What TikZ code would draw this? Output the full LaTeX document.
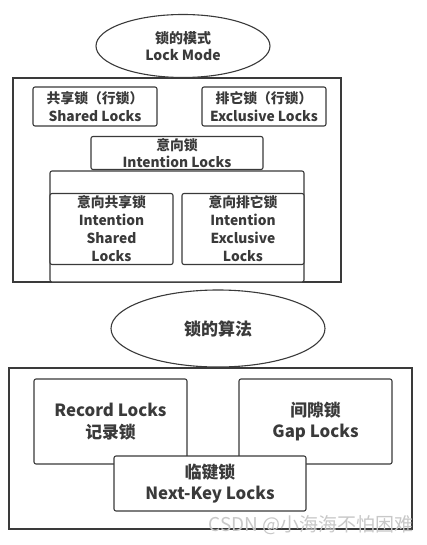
\documentclass[tikz,border=0pt]{standalone}
\usepackage{fontspec}
\setmainfont{Noto Sans CJK SC}
\usetikzlibrary{shapes.geometric}
\definecolor{ink}{HTML}{3A3A3A}
\definecolor{wm}{HTML}{C8C8C8}
\tikzset{
  outer/.style={draw=ink, line width=1.1pt, fill=white},
  lockbox/.style={draw=ink, line width=1.1pt, fill=white, rounded corners=2pt, align=center, text=ink, font=\fontsize{13.8}{17.5}\selectfont\bfseries, inner sep=0pt},
  bigbox/.style={lockbox, font=\fontsize{16.8}{21.5}\selectfont\bfseries},
  oval/.style={ellipse, draw=ink, line width=1.1pt, fill=white, align=center, text=ink, inner sep=0pt},
}
\begin{document}
\begin{tikzpicture}[x=1pt,y=-1pt]
\useasboundingbox (0,0) rectangle (427,545);
% Lock mode section
\node[outer, minimum width=328pt, minimum height=204pt] (mode) at (177,180) {};
\node[oval, minimum width=174pt, minimum height=63pt, font=\fontsize{14}{17.5}\selectfont\bfseries] (modeTitle) at (183,46) {锁的模式\\Lock Mode};
\node[lockbox, minimum width=124pt, minimum height=39pt] (shared) at (95,106.5) {共享锁（行锁）\\Shared Locks};
\node[lockbox, minimum width=124pt, minimum height=39pt] (excl) at (264,106.5) {排它锁（行锁）\\Exclusive Locks};
\node[lockbox, minimum width=254pt, minimum height=111pt] (intgroup) at (177,226.5) {};
\node[lockbox, minimum width=172pt, minimum height=33pt, text depth=0pt] (intent) at (177,153) {意向锁\\Intention Locks};
\node[lockbox, minimum width=123pt, minimum height=71pt, font=\fontsize{13.8}{18}\selectfont\bfseries] (is) at (111.5,229) {意向共享锁\\Intention\\Shared\\Locks};
\node[lockbox, minimum width=122pt, minimum height=71pt, font=\fontsize{13.8}{18}\selectfont\bfseries] (ix) at (243,229) {意向排它锁\\Intention\\Exclusive\\Locks};
% Algorithm section
\node[outer, minimum width=403pt, minimum height=161pt] (algo) at (210.5,448.5) {};
\node[oval, minimum width=214pt, minimum height=77pt, font=\fontsize{17}{21}\selectfont\bfseries] (algoTitle) at (218,328.5) {锁的算法};
\node[bigbox, minimum width=153pt, minimum height=85pt] (record) at (110.5,421.5) {Record Locks\\记录锁};
\node[bigbox, minimum width=153pt, minimum height=85pt] (gap) at (315.5,421.5) {间隙锁\\Gap Locks};
\node[bigbox, minimum width=192pt, minimum height=55pt] (nextkey) at (210,483.5) {临键锁\\Next-Key Locks};
% watermark
\node[anchor=east, text=wm, font=\fontsize{19}{20}\selectfont, inner sep=0pt] (mark) at (414,525) {CSDN @小海海不怕困难};
\end{tikzpicture}
\end{document}
